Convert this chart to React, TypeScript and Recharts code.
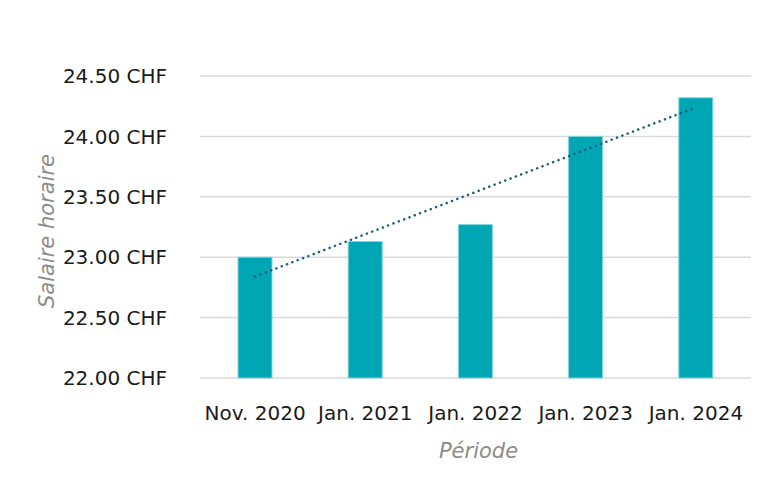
import React from "react"
import {
  ComposedChart,
  Bar,
  Line,
  XAxis,
  YAxis,
  CartesianGrid,
  Label,
} from "recharts"

const periods = ["Nov. 2020", "Jan. 2021", "Jan. 2022", "Jan. 2023", "Jan. 2024"]
const hourlyWage = [23.0, 23.13, 23.27, 24.0, 24.32]
// dotted linear trend
const trend = [22.84, 23.19, 23.54, 23.89, 24.24]
const yTicks = [22, 22.5, 23, 23.5, 24, 24.5]

const data = periods.map((p, i) => ({ period: p, wage: hourlyWage[i], trend: trend[i] }))

const FONT = "'DejaVu Sans', sans-serif"

export default function App() {
  return (
    <div style={{ width: 760, height: 470, fontFamily: FONT }}>
      <ComposedChart
        width={760}
        height={470}
        data={data}
        margin={{ top: 68, right: 17, bottom: 0, left: 0 }}
        barSize={34}
      >
        <CartesianGrid vertical={false} stroke="#d9d9d9" strokeWidth={1.5} />
        <XAxis
          dataKey="period"
          axisLine={false}
          tickLine={false}
          tickMargin={22}
          height={100}
          tick={{ fill: "#1a1a1a", fontSize: 20, fontFamily: FONT }}
          interval={0}
        >
          <Label
            value="Période"
            position="insideBottom"
            offset={20}
            dx={3}
            style={{ fill: "#8c8c8c", fontSize: 21, fontStyle: "italic", fontFamily: FONT }}
          />
        </XAxis>
        <YAxis
          domain={[22, 24.5]}
          ticks={yTicks}
          axisLine={false}
          tickLine={false}
          tickSize={0}
          tickMargin={33}
          width={192}
          tickFormatter={(v: number) => `${v.toFixed(2)} CHF`}
          tick={{ fill: "#1a1a1a", fontSize: 20, fontFamily: FONT }}
        >
          <Label
            content={({ viewBox }: any) => {
              const cy = viewBox.y + viewBox.height / 2 + 4
              return (
                <text
                  x={39}
                  y={cy}
                  transform={`rotate(-90, 39, ${cy})`}
                  textAnchor="middle"
                  dominantBaseline="central"
                  fill="#8c8c8c"
                  fontSize={21}
                  fontStyle="italic"
                  fontFamily={FONT}
                >
                  Salaire horaire
                </text>
              )
            }}
          />
        </YAxis>
        <Bar dataKey="wage" fill="#00a6b4" stroke="#7fd6dd" strokeWidth={1} isAnimationActive={false} />
        <Line
          dataKey="trend"
          type="linear"
          stroke="#1b5e7e"
          strokeWidth={2.5}
          strokeDasharray="0.1 5.6"
          strokeLinecap="round"
          dot={false}
          activeDot={false}
          isAnimationActive={false}
        />
      </ComposedChart>
    </div>
  )
}
